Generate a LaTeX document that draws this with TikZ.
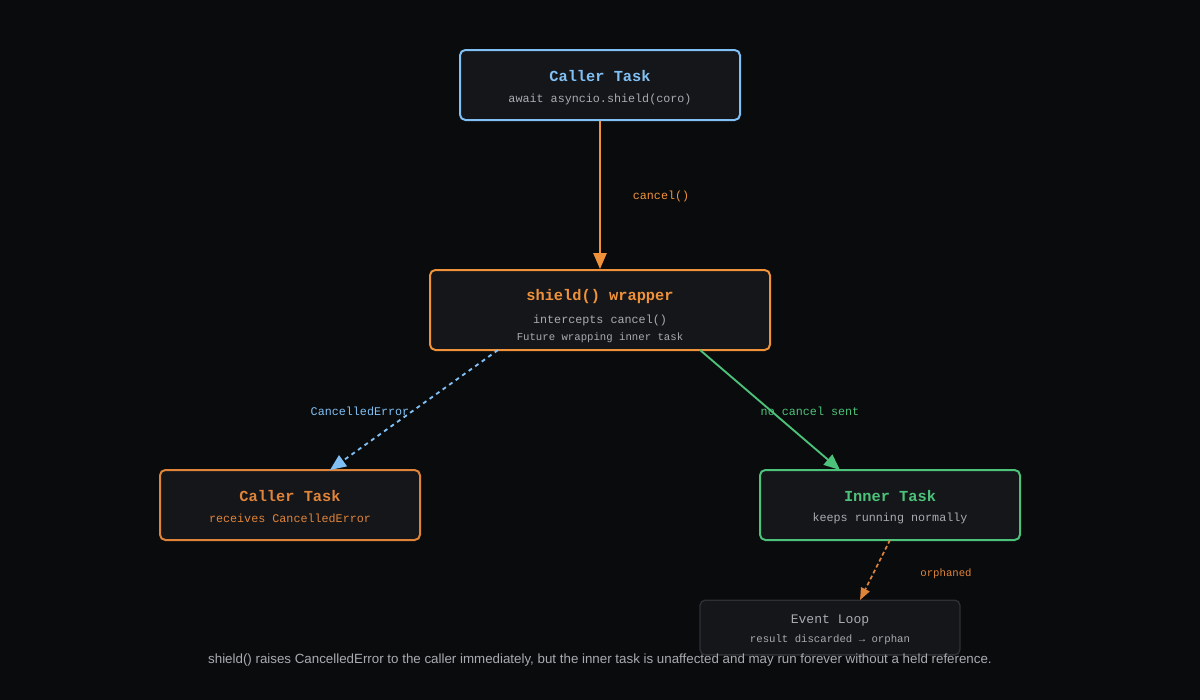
\documentclass[tikz,border=0pt]{standalone}
\usepackage{fontspec}
\setmainfont{Liberation Sans}
\newfontfamily\mono{Liberation Mono}
\usetikzlibrary{arrows.meta}
\definecolor{bg}{HTML}{0A0B0D}
\definecolor{boxfill}{HTML}{15161A}
\definecolor{cblue}{HTML}{80C0F5}
\definecolor{corange}{HTML}{F0923A}
\definecolor{dorange}{HTML}{E0843A}
\definecolor{cgreen}{HTML}{4CC27A}
\definecolor{txt}{HTML}{A8ABB0}
\definecolor{dim}{HTML}{2E3035}
\begin{document}
\begin{tikzpicture}[x=0.75pt,y=-0.75pt,
  box/.style={draw, line width=1.5pt, rounded corners=4pt, fill=boxfill, inner sep=0pt},
  ttl/.style={font=\mono\bfseries\fontsize{11.5}{13}\selectfont},
  sub/.style={font=\mono\fontsize{8.8}{10}\selectfont, text=txt},
  tiny/.style={font=\mono\fontsize{8}{9}\selectfont, text=txt},
  lbl/.style={font=\mono\fontsize{8.8}{10}\selectfont},
  arr/.style={line width=1.4pt, -{Triangle[length=12pt,width=10pt]}}]
\fill[bg] (0,0) rectangle (1200,700);
\useasboundingbox (0,0) rectangle (1200,700);
% boxes
\node[box, draw=cblue, minimum width=210pt, minimum height=52.5pt] (top) at (600,85) {};
\node[ttl, text=cblue] (topt) at (600,76) {Caller Task};
\node[sub] (tops) at (600,99) {await asyncio.shield(coro)};
\node[box, draw=corange, minimum width=255pt, minimum height=60pt] (sh) at (600,310) {};
\node[ttl, text=corange] (sht) at (600,297) {shield() wrapper};
\node[sub] (shs) at (600,320) {intercepts cancel()};
\node[tiny] (shs2) at (600,338) {Future wrapping inner task};
\node[box, draw=dorange, minimum width=195pt, minimum height=52.5pt] (ct) at (290,505) {};
\node[ttl, text=dorange] (ctt) at (290,496) {Caller Task};
\node[sub, text=dorange] (cts) at (290,518) {receives CancelledError};
\node[box, draw=cgreen, minimum width=195pt, minimum height=52.5pt] (it) at (890,505) {};
\node[ttl, text=cgreen] (itt) at (890,496) {Inner Task};
\node[sub] (its) at (890,518) {keeps running normally};
\node[box, draw=dim, line width=1pt, minimum width=195pt, minimum height=41pt] (ev) at (830,627.5) {};
\node[font=\mono\fontsize{9.8}{11}\selectfont, text=txt] (evt) at (830,620) {Event Loop};
\node[tiny] (evs) at (830,640) {result discarded → orphan};
% connectors
\coordinate (a1) at (498,350); \coordinate (a2) at (700,350); \coordinate (a3) at (890,540);
\draw[arr, corange] (top.south) -- (sh.north);
\node[lbl, text=corange] (l1) at (661,196) {cancel()};
\draw[arr, cblue, dashed] (a1) -- (330,470) coordinate (b1);
\node[lbl, text=cblue] (l2) at (360,411) {CancelledError};
\draw[arr, cgreen] (a2) -- (840,470) coordinate (b2);
\node[lbl, text=cgreen] (l3) at (810,411) {no cancel sent};
\draw[line width=1.2pt, dorange, densely dashed, -{Triangle[length=9pt,width=7pt]}] (a3) -- (860,600);
\node[tiny, text=dorange] (l4) at (946,574) {orphaned};
\node[font=\fontsize{10}{12}\selectfont, text=txt] (foot) at (600,660) {shield() raises CancelledError to the caller immediately, but the inner task is unaffected and may run forever without a held reference.};
\end{tikzpicture}
\end{document}
